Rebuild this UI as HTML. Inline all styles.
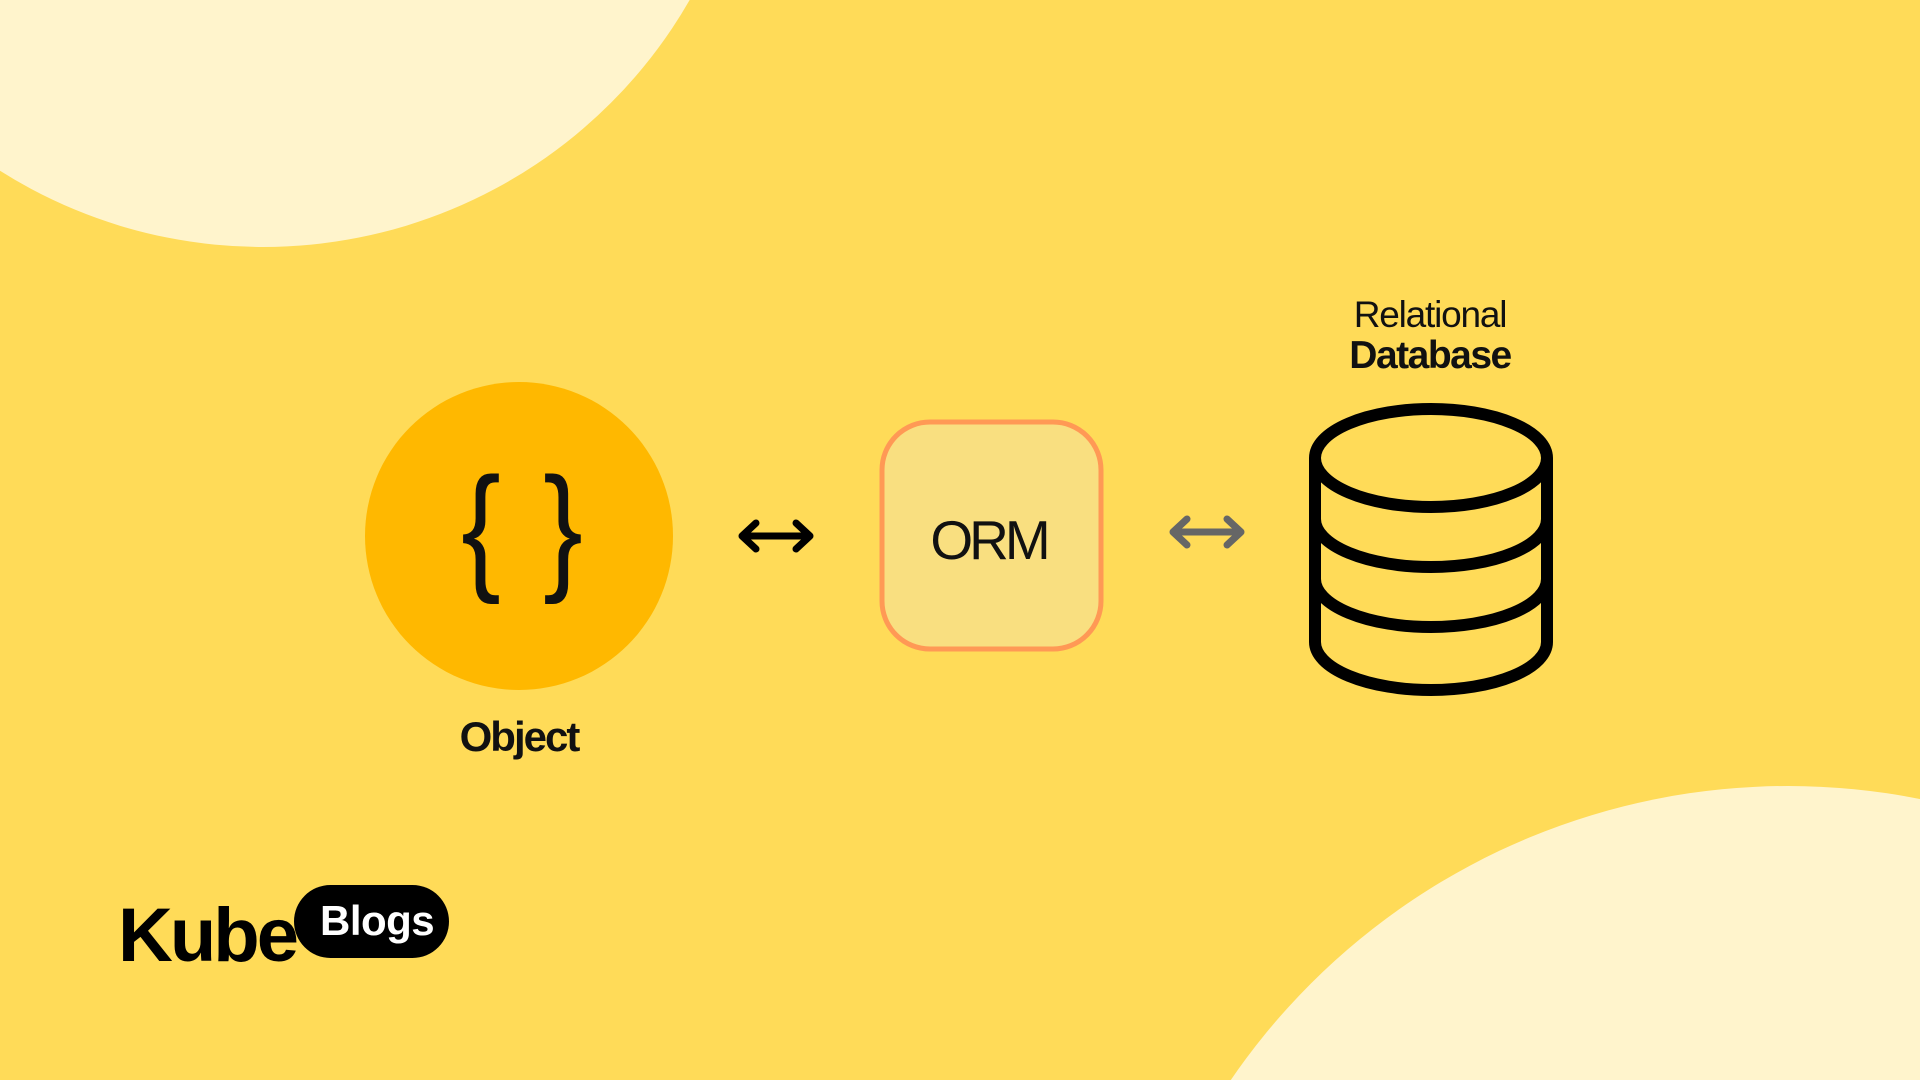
<!DOCTYPE html>
<html><head><meta charset="utf-8"><style>
html,body{margin:0;padding:0;width:1920px;height:1080px;overflow:hidden}
body{background:#FFDB58;position:relative;font-family:"Liberation Sans",sans-serif}
.t{position:absolute;white-space:nowrap;color:#111;line-height:1}
</style></head><body>
<svg width="1920" height="1080" style="position:absolute;left:0;top:0;display:block">
<circle cx="263" cy="-245" r="492" fill="#FFF4CC"/>
<circle cx="1788" cy="1461" r="675" fill="#FFF4CC"/>
<circle cx="519" cy="536" r="154" fill="#FFB800"/>
<g transform="translate(481,575) scale(0.85,1.0)"><text x="0" y="0" font-family="Liberation Sans" font-size="140" text-anchor="middle" fill="#111">{</text></g>
<g transform="translate(563,575) scale(0.85,1.0)"><text x="0" y="0" font-family="Liberation Sans" font-size="140" text-anchor="middle" fill="#111">}</text></g>
<rect x="882" y="422" width="219" height="227" rx="48" fill="#F9DF80" stroke="#FF9955" stroke-width="5"/>
<g fill="none" stroke="#000" stroke-width="7" stroke-linecap="round" stroke-linejoin="round">
<path d="M742 536 H810 M756 523 L742 536 L756 549 M796 523 L810 536 L796 549"/>
</g>
<g fill="none" stroke="#666" stroke-width="7" stroke-linecap="round" stroke-linejoin="round">
<path d="M1173 532 H1241 M1187 519 L1173 532 L1187 545 M1227 519 L1241 532 L1227 545"/>
</g>
<g fill="none" stroke="#000" stroke-width="12" stroke-linejoin="round">
<ellipse cx="1431" cy="458" rx="116" ry="49"/>
<path d="M1315 458 V642 A116 48 0 0 0 1547 642 V458"/>
<path d="M1315 519 A116 48 0 0 0 1547 519"/>
<path d="M1315 579 A116 48 0 0 0 1547 579"/>
</g>
<rect x="294" y="885" width="155" height="73" rx="36.5" fill="#000"/>
</svg>
<div class="t" style="left:1330px;top:296px;width:200px;text-align:center;font-size:37px;letter-spacing:-1.2px">Relational</div>
<div class="t" style="left:1330px;top:336px;width:200px;text-align:center;font-size:39px;font-weight:bold;letter-spacing:-1.5px">Database</div>
<div class="t" style="left:879px;top:513px;width:219px;text-align:center;font-size:55px;letter-spacing:-4px">ORM</div>
<div class="t" style="left:419px;top:716px;width:200px;text-align:center;font-size:42px;font-weight:bold;letter-spacing:-2px">Object</div>
<div class="t" style="left:118px;top:898px;font-size:76px;font-weight:bold;color:#000;letter-spacing:-3px">Kube</div>
<div class="t" style="left:320px;top:900px;font-size:42px;font-weight:bold;color:#fff;letter-spacing:-0.5px">Blogs</div>
</body></html>
